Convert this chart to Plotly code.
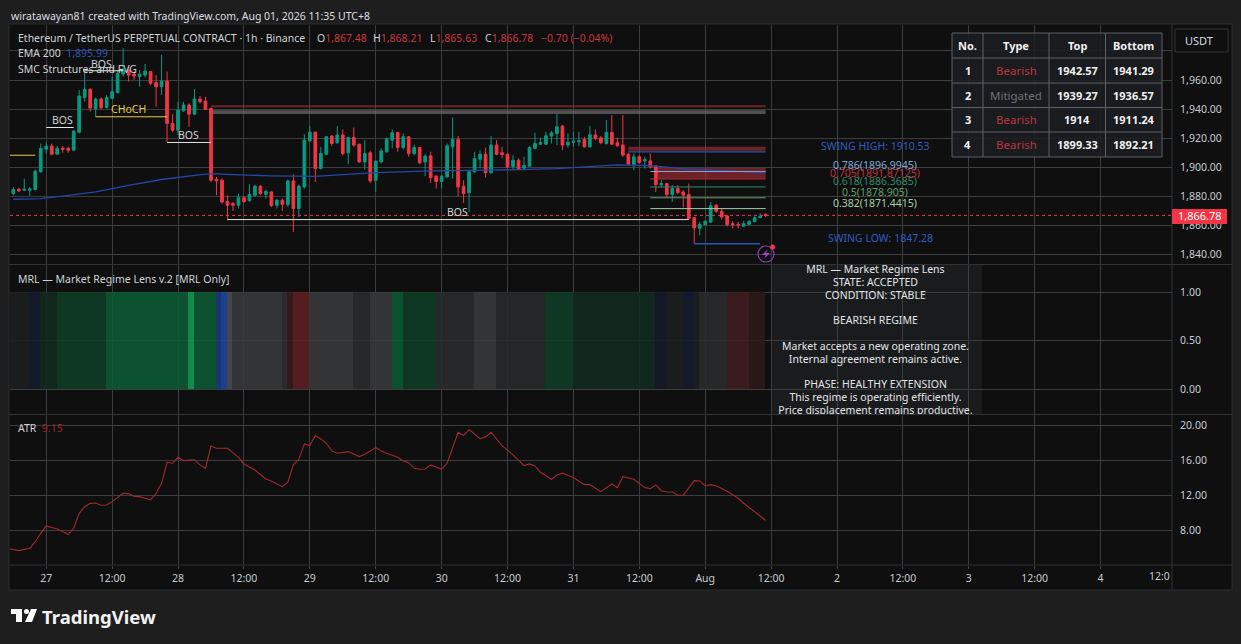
import pandas as pd
import plotly.graph_objects as go

W, H = 1241, 644
FONT = "Noto Sans"
GRID = "#3b3d3f"
TEXT = "#c8cbd2"
GREEN = "#089981"
RED = "#f23645"

# ----------------------------------------------------------------------------- data

opens = [
    1881.8, 1884.8, 1884.1, 1884.1, 1884.6, 1896.8, 1912.4, 1914.5, 1908.9, 1913.1,
    1912.9, 1911.7, 1924.1, 1948.0, 1953.6, 1940.4, 1946.9, 1941.1, 1947.4, 1951.3,
    1964.1, 1966.9, 1964.1, 1962.3, 1963.4, 1965.8, 1958.2, 1955.4, 1959.3, 1930.1,
    1925.5, 1938.8, 1942.8, 1936.5, 1946.9, 1945.5, 1940.4, 1891.7, 1891.0, 1876.3,
    1874.9, 1873.8, 1879.0, 1877.0, 1880.6, 1886.9, 1881.3, 1882.9, 1873.8, 1877.2,
    1874.2, 1890.5, 1871.5, 1886.4, 1918.1, 1924.1, 1899.1, 1908.9, 1921.4, 1916.8,
    1922.1, 1909.9, 1920.4, 1915.8, 1903.6, 1909.9, 1891.0, 1903.6, 1910.6, 1918.6,
    1923.9, 1913.5, 1920.9, 1909.4, 1913.5, 1903.6, 1907.8, 1893.8, 1890.1, 1893.3,
    1914.0, 1919.1, 1886.9, 1882.3, 1896.8, 1905.5, 1908.9, 1896.1, 1915.2, 1909.9,
    1908.9, 1900.2, 1904.8, 1899.3, 1900.7, 1912.9, 1915.8, 1915.8, 1921.4, 1923.2,
    1928.3, 1915.2, 1917.2, 1917.5, 1919.1, 1914.0, 1922.1, 1920.2, 1916.3, 1923.9,
    1916.8, 1915.2, 1908.9, 1902.0, 1907.1, 1904.3, 1904.3, 1900.7, 1887.8, 1888.7,
    1881.1, 1885.3, 1882.9, 1881.1, 1865.2, 1857.9, 1860.4, 1862.2, 1873.8, 1869.6,
    1866.4, 1861.1, 1860.6, 1859.3, 1860.6, 1862.5, 1865.2, 1867.48,
]
highs = [
    1886.4, 1885.7, 1892.2, 1886.4, 1898.4, 1916.3, 1916.8, 1916.3, 1914.7, 1914.7,
    1914.0, 1925.5, 1953.1, 1966.9, 1954.2, 1948.0, 1948.0, 1949.7, 1962.3, 1966.9,
    1981.9, 1969.2, 1965.8, 1966.9, 1971.0, 1966.4, 1963.4, 1977.2, 1965.8, 1936.5,
    1945.0, 1945.0, 1943.9, 1953.8, 1949.0, 1948.5, 1941.1, 1893.3, 1892.2, 1880.6,
    1876.0, 1881.8, 1880.0, 1888.2, 1887.6, 1887.6, 1884.6, 1883.4, 1878.3, 1878.3,
    1891.5, 1895.1, 1888.0, 1922.7, 1928.3, 1924.4, 1914.0, 1921.4, 1922.1, 1928.3,
    1926.0, 1920.9, 1927.3, 1916.3, 1918.6, 1911.2, 1904.8, 1912.9, 1920.4, 1926.0,
    1924.4, 1923.2, 1921.4, 1915.6, 1914.0, 1908.9, 1910.6, 1894.5, 1894.5, 1916.3,
    1934.2, 1921.4, 1891.0, 1897.2, 1910.6, 1911.7, 1913.5, 1921.4, 1918.6, 1914.0,
    1909.4, 1908.2, 1905.9, 1907.1, 1914.5, 1923.7, 1920.4, 1924.4, 1925.0, 1936.5,
    1928.9, 1923.2, 1924.4, 1924.4, 1920.9, 1928.3, 1926.0, 1921.4, 1932.4, 1935.9,
    1920.4, 1935.9, 1909.9, 1909.4, 1908.2, 1907.1, 1909.4, 1901.4, 1891.0, 1889.2,
    1887.6, 1887.6, 1884.1, 1888.7, 1865.7, 1862.3, 1863.4, 1876.0, 1874.4, 1871.4,
    1866.9, 1862.9, 1862.3, 1862.9, 1863.4, 1866.2, 1868.5, 1868.21,
]
lows = [
    1880.6, 1882.9, 1883.6, 1880.2, 1884.1, 1896.3, 1909.4, 1908.7, 1908.7, 1909.9,
    1909.9, 1911.2, 1923.2, 1945.1, 1938.2, 1934.7, 1939.8, 1940.4, 1946.7, 1950.8,
    1962.3, 1958.9, 1960.0, 1955.4, 1961.8, 1956.6, 1941.6, 1949.7, 1917.4, 1924.3,
    1922.1, 1938.2, 1927.8, 1935.9, 1943.9, 1939.3, 1889.9, 1880.6, 1874.9, 1863.4,
    1869.8, 1871.5, 1875.4, 1876.0, 1879.5, 1880.6, 1878.4, 1872.6, 1871.5, 1869.8,
    1872.6, 1855.4, 1865.7, 1885.2, 1917.4, 1889.8, 1898.4, 1908.2, 1914.5, 1916.3,
    1908.2, 1902.0, 1914.0, 1903.0, 1898.4, 1889.2, 1883.0, 1902.5, 1909.9, 1912.9,
    1910.6, 1912.2, 1907.1, 1908.2, 1902.0, 1893.8, 1889.2, 1885.3, 1885.3, 1892.8,
    1892.1, 1880.0, 1875.4, 1869.1, 1896.1, 1899.1, 1892.8, 1895.6, 1908.2, 1906.0,
    1899.1, 1897.9, 1897.9, 1898.8, 1900.2, 1912.2, 1915.2, 1915.2, 1916.3, 1915.2,
    1911.7, 1913.5, 1914.0, 1914.5, 1913.5, 1913.5, 1918.6, 1915.8, 1915.6, 1915.2,
    1914.0, 1907.1, 1901.3, 1897.9, 1902.5, 1899.1, 1899.1, 1882.9, 1885.9, 1879.5,
    1876.0, 1881.3, 1872.1, 1863.9, 1847.3, 1853.0, 1859.9, 1861.6, 1868.5, 1863.9,
    1859.3, 1857.7, 1857.7, 1858.8, 1859.9, 1862.0, 1864.8, 1865.63,
]
closes = [
    1884.6, 1883.6, 1884.8, 1885.0, 1897.2, 1912.9, 1914.5, 1908.9, 1912.9, 1912.2,
    1911.7, 1924.8, 1949.0, 1953.6, 1940.7, 1946.9, 1940.9, 1948.0, 1951.9, 1964.6,
    1966.9, 1963.4, 1962.8, 1964.1, 1966.2, 1957.7, 1955.4, 1959.3, 1930.1, 1925.5,
    1939.3, 1942.8, 1936.5, 1946.9, 1945.1, 1939.8, 1891.0, 1890.5, 1876.0, 1873.8,
    1873.8, 1879.0, 1876.3, 1881.3, 1886.9, 1881.8, 1883.2, 1873.5, 1877.2, 1874.4,
    1890.5, 1871.5, 1886.9, 1918.6, 1924.1, 1899.1, 1909.4, 1920.9, 1916.3, 1922.1,
    1909.4, 1920.4, 1915.2, 1903.6, 1909.4, 1890.5, 1904.1, 1911.2, 1919.5, 1923.7,
    1913.5, 1920.9, 1909.4, 1913.5, 1903.0, 1907.6, 1892.8, 1890.1, 1893.8, 1914.7,
    1919.1, 1886.4, 1881.8, 1896.8, 1905.9, 1908.9, 1896.1, 1915.2, 1908.9, 1908.7,
    1900.2, 1904.8, 1898.4, 1901.1, 1913.5, 1916.3, 1916.8, 1921.6, 1923.7, 1927.8,
    1915.2, 1917.2, 1917.9, 1918.1, 1914.0, 1922.3, 1919.8, 1916.8, 1923.9, 1915.8,
    1914.7, 1908.3, 1902.0, 1907.1, 1903.2, 1905.3, 1900.2, 1888.0, 1888.7, 1881.1,
    1885.3, 1882.5, 1880.7, 1864.6, 1858.1, 1860.6, 1862.7, 1873.5, 1869.6, 1865.7,
    1860.4, 1860.4, 1860.2, 1861.1, 1862.7, 1865.2, 1866.2, 1866.78,
]
last_price = 1866.78

ema_idx = [0, 5, 9, 15, 21, 27, 33, 36, 40, 47, 55, 65, 76, 87, 99, 110, 116, 123, 130, 137]
ema_val = [1877.9, 1878.3, 1880.0, 1882.9, 1887.5, 1891.5, 1894.4, 1895.6, 1894.9, 1894.0,
           1893.6, 1896.1, 1897.4, 1897.9, 1899.0, 1901.6, 1901.1, 1898.6, 1897.4, 1895.99]

# structure breaks: candle from, candle to, price
bos_from = [6, 13, 28, 39]
bos_to = [11, 20, 36, 123]
bos_level = [1927.3, 1966.4, 1917.0, 1863.9]
choch_from = [-1, 15]
choch_to = [4, 28]
choch_level = [1908.2, 1934.7]

# FVG zones from the table
zone_no = ["1", "2", "3", "4"]
zone_type = ["Bearish", "Mitigated", "Bearish", "Bearish"]
zone_top = [1942.57, 1939.27, 1914, 1899.33]
zone_bottom = [1941.29, 1936.57, 1911.24, 1892.21]
zone_start = [36, 36, 112, 117]
zone_end = 137
table_head = ["No.", "Type", "Top", "Bottom"]

fib_names = ["0.786", "0.705", "0.618", "0.5", "0.382"]
fib_values = [1896.9945, 1891.87125, 1886.3685, 1878.905, 1871.4415]
fib_colors = ["#7fa9d8", "#c2333a", "#2f8a6c", "#5f9e68", "#a3cfa3"]
swing_high = 1910.53
swing_low = 1847.28

# MRL regime blocks: length in candles, colour
mrl_runs = [4, 2, 3, 9, 15, 1, 4, 1, 1, 1, 9, 1, 1, 3, 8, 3, 4, 2, 6, 7, 4, 9, 5, 15, 2, 3, 2, 1, 5, 4, 3]
mrl_colors = [
    "#1d1e20", "#141c30", "#122a20", "#0e3d26", "#0c5a34", "#0e9a50", "#0c5a34", "#1a3a80",
    "#1e46a0", "#4a4b4e", "#37383b", "#2e2f30", "#3a1a1c", "#5c2024", "#37383b", "#2a2b2c",
    "#37383b", "#0c5a34", "#0e3d26", "#2a2b2c", "#37383b", "#272a2b", "#0e3d26", "#122a20",
    "#15192a", "#1c1e20", "#151b30", "#1d1e20", "#2a2b2d", "#3f1e21", "#2e1a1b",
]
mrl_panel_lines = [
    "MRL — Market Regime Lens", "STATE: ACCEPTED", "CONDITION: STABLE", "BEARISH REGIME",
    "Market accepts a new operating zone.", "Internal agreement remains active.",
    "PHASE: HEALTHY EXTENSION", "This regime is operating efficiently.",
    "Price displacement remains productive.",
]
mrl_panel_pos = [1.23, 1.096, 0.962, 0.704, 0.436, 0.302, 0.044, -0.089, -0.224]

atr_idx = [
    -1, 1, 3, 4, 5, 6, 8, 10, 11, 12, 13, 14, 15, 16, 17, 18, 20, 21, 22, 23, 25, 26, 27, 28, 29,
    30, 31, 33, 34, 35, 36, 37, 39, 41, 42, 44, 46, 47, 49, 50, 51, 52, 53, 54, 55, 56, 57, 58, 59,
    61, 63, 64, 66, 67, 68, 70, 71, 72, 73, 74, 75, 76, 78, 79, 81, 82, 83, 85, 86, 87, 89, 91, 93,
    94, 95, 96, 98, 99, 100, 102, 104, 105, 107, 109, 110, 111, 113, 115, 116, 117, 118, 119, 120,
    121, 122, 124, 125, 126, 127, 128, 130, 132, 133, 134, 137,
]
atr_val = [
    5.94, 5.68, 5.94, 6.70, 7.66, 8.50, 8.15, 7.54, 8.23, 9.94, 10.70, 11.08, 11.12, 10.86, 10.89,
    11.28, 12.23, 12.19, 11.88, 11.85, 11.47, 12.23, 13.37, 15.77, 15.66, 16.34, 15.96, 16.04,
    15.47, 15.08, 17.64, 17.37, 17.37, 16.34, 15.58, 14.89, 13.87, 13.64, 12.99, 13.49, 15.47,
    16.11, 17.87, 17.68, 18.82, 18.44, 17.94, 17.07, 16.80, 16.99, 16.42, 16.68, 17.45, 17.07,
    16.80, 16.34, 15.92, 15.73, 15.08, 14.97, 15.00, 15.47, 14.97, 15.66, 19.20, 18.82, 19.50,
    18.46, 18.67, 19.20, 17.68, 16.61, 15.39, 15.58, 15.35, 14.63, 13.83, 14.32, 14.55, 14.02,
    13.22, 13.22, 12.42, 13.29, 12.88, 14.13, 13.83, 12.88, 12.76, 13.18, 12.53, 12.38, 12.38,
    12.00, 12.00, 13.68, 13.64, 13.07, 13.22, 13.10, 12.46, 11.66, 11.09, 10.63, 9.15,
]

time_ticks = pd.date_range("2026-07-27 00:00", "2026-08-04 00:00", freq="12h")
time_labels = ["27", "12:00", "28", "12:00", "29", "12:00", "30", "12:00", "31", "12:00",
               "Aug", "12:00", "2", "12:00", "3", "12:00", "4"]
price_ticks = [1840, 1860, 1880, 1900, 1920, 1940, 1960, 1980]
price_labels = ["1,840.00", "1,860.00", "1,880.00", "1,900.00", "1,920.00", "1,940.00", "1,960.00", ""]
mrl_ticks = [0, 0.5, 1]
mrl_labels = ["0.00", "0.50", "1.00"]
atr_ticks = [8, 12, 16, 20]
atr_labels = ["8.00", "12.00", "16.00", "20.00"]

first_bar = pd.Timestamp("2026-07-26 18:00")
HOUR = pd.Timedelta(hours=1)
bar_times = [first_bar + HOUR * i for i in range(len(closes))]


def at(i):
    return first_bar + HOUR * i


# ----------------------------------------------------------------------------- helpers


def px(x):
    return x / W


def py(y):
    return 1 - y / H


def dom(top, bottom):
    return [py(bottom), py(top)]


def label(x, y, text, color=TEXT, size=10.5, anchor="left"):
    fig.add_annotation(
        x=px(x), y=py(y), xref="paper", yref="paper", text=text, showarrow=False,
        xanchor=anchor, yanchor="middle", font=dict(family=FONT, size=size, color=color),
    )


def level_line(i0, i1, level, color, width=1, yaxis="y"):
    fig.add_trace(go.Scatter(
        x=[at(i0), at(i1)], y=[level, level], mode="lines", yaxis=yaxis,
        line=dict(color=color, width=width), hoverinfo="skip",
    ))


def page_rect(x0, y0, x1, y1, **kw):
    fig.add_shape(type="rect", xref="paper", yref="paper",
                  x0=px(x0), x1=px(x1), y0=py(y0), y1=py(y1), **kw)


def page_line(x0, y0, x1, y1, color, layer="below"):
    fig.add_shape(type="line", xref="paper", yref="paper", x0=px(x0), x1=px(x1), y0=py(y0), y1=py(y1),
                  line=dict(color=color, width=1), layer=layer)


def page_poly(points, color):
    path = " ".join(("M" if k == 0 else "L") + f"{px(a):.5f},{py(b):.5f}" for k, (a, b) in enumerate(points))
    fig.add_shape(type="path", xref="paper", yref="paper", fillcolor=color, line_width=0, path=path + " Z")


# ----------------------------------------------------------------------------- figure

fig = go.Figure()

# Chart background first, the info panel goes on top of it
page_rect(9, 24, 1232, 590, fillcolor="#0f0f0f", line=dict(color="#2b2d2e", width=1), layer="below")
page_rect(771, 265, 982, 415, fillcolor="#1a1b1d", line_width=0, layer="below")
for y in [264.5, 414.5, 565]:
    page_line(9, y, 1232, y, "#303234")
page_line(1172, 24, 1172, 590, "#303234")

# Zones under the candles
zone_fill = {"Bearish": "rgba(170,45,55,0.62)", "Mitigated": "rgba(120,122,125,0.62)"}
for top, bottom, kind, start in zip(zone_top, zone_bottom, zone_type, zone_start):
    fig.add_shape(type="rect", xref="x", yref="y", x0=at(start), x1=at(zone_end), y0=bottom, y1=top,
                  fillcolor=zone_fill[kind], line_width=0, layer="between")

# Candles
fig.add_trace(go.Candlestick(
    x=bar_times, open=opens, high=highs, low=lows, close=closes,
    increasing=dict(line=dict(color=GREEN, width=1), fillcolor=GREEN),
    decreasing=dict(line=dict(color=RED, width=1), fillcolor=RED),
    whiskerwidth=0, hoverinfo="skip",
))

# EMA 200
fig.add_trace(go.Scatter(
    x=[at(i) for i in ema_idx], y=ema_val, mode="lines",
    line=dict(color="#2447a8", width=1.3), hoverinfo="skip",
))

# Market structure
for i0, i1, lvl in zip(bos_from, bos_to, bos_level):
    level_line(i0, i1, lvl, "#e4e4e4")
for i0, i1, lvl in zip(choch_from, choch_to, choch_level):
    level_line(i0, i1, lvl, "#e8c94a")

# Fib and swing levels
for val, col in zip(fib_values, fib_colors):
    level_line(116, 137, val, col)
level_line(112, 137, swing_high, "#2a55b8", 1.2)
level_line(124, 136, swing_low, "#2a55b8", 1.4)

# Last price
fig.add_shape(type="line", xref="x domain", yref="y", x0=0, x1=1, y0=last_price, y1=last_price,
              line=dict(color=RED, width=1, dash="dot"))

# MRL regime blocks, first one runs off the left edge
starts = []
pos = -1
for n in mrl_runs:
    starts.append(pos)
    pos += n
fig.add_trace(go.Bar(
    x=[at(s + n / 2 - 0.1) for s, n in zip(starts, mrl_runs)],
    y=[1] * len(mrl_runs),
    width=[n * 3600000 for n in mrl_runs],
    yaxis="y2", marker=dict(color=mrl_colors, line_width=0, opacity=0.9), hoverinfo="skip",
))

# MRL info text, clipped by the pane like in the app
fig.add_trace(go.Scatter(
    x=[at(157)] * len(mrl_panel_lines), y=mrl_panel_pos, text=mrl_panel_lines, mode="text",
    yaxis="y2", textposition="middle center", cliponaxis=True,
    textfont=dict(family=FONT, size=10.5, color="#e4e5e8"), hoverinfo="skip",
))

# ATR
fig.add_trace(go.Scatter(
    x=[at(i) for i in atr_idx], y=atr_val, mode="lines", yaxis="y3",
    line=dict(color="#a02a32", width=1.1), hoverinfo="skip",
))

# ----------------------------------------------------------------------------- FVG table

col_edges = [952, 983, 1049, 1105.5, 1162]
row_edges = [33, 58, 83, 107.5, 132, 157]
page_rect(col_edges[0], row_edges[0], col_edges[-1], row_edges[-1], fillcolor="rgba(28,30,33,0.88)",
          line=dict(color="#5f6165", width=1))
for x in col_edges[1:-1]:
    page_line(x, row_edges[0], x, row_edges[-1], "#5f6165", "above")
for y in row_edges[1:-1]:
    page_line(col_edges[0], y, col_edges[-1], y, "#5f6165", "above")

table_rows = [table_head] + [
    [n, t, f"{a:g}", f"{b:g}"] for n, t, a, b in zip(zone_no, zone_type, zone_top, zone_bottom)
]
for r, row in enumerate(table_rows):
    for c, cell in enumerate(row):
        xc = (col_edges[c] + col_edges[c + 1]) / 2
        yc = (row_edges[r] + row_edges[r + 1]) / 2
        if c == 1 and r > 0:
            label(xc, yc, cell, "#bb3640" if cell == "Bearish" else "#6f7073", 11.5, "center")
        else:
            label(xc, yc, f"<b>{cell}</b>", "#f0f0f0", 11, "center")

# ----------------------------------------------------------------------------- chrome

# USDT button and last price tag
page_rect(1175, 29, 1228, 52, line=dict(color="#333537", width=1), fillcolor="#0f0f0f")
label(1183, 41, "USDT", "#d8dae0", 11)
page_rect(1172, 209, 1227, 224, fillcolor=RED, line_width=0)

# TradingView logo
page_poly([(11, 609), (22, 609), (22, 622), (16, 622), (16, 614), (11, 614)], "#ffffff")
page_poly([(31, 609), (37, 609), (32, 622), (25, 622)], "#ffffff")
fig.add_shape(type="circle", xref="paper", yref="paper", fillcolor="#ffffff", line_width=0,
              x0=px(24), x1=px(29), y0=py(614), y1=py(609))

# Alert icon
fig.add_shape(type="circle", xref="paper", yref="paper", line=dict(color="#8e3bb0", width=1.2),
              x0=px(758), x1=px(774), y0=py(262), y1=py(246))
page_poly([(768, 249), (762, 255), (766, 255), (764, 259), (770, 253), (766, 253)], "#9c46c2")
fig.add_shape(type="circle", xref="paper", yref="paper", fillcolor=RED, line_width=0,
              x0=px(770), x1=px(775), y0=py(249.5), y1=py(244.5))

# Texts
muted = "#d0d2d6"
val_red = "#c9373f"
label(9, 16, "wiratawayan81 created with TradingView.com, Aug 01, 2026 11:35 UTC+8", "#dcdde0", 10.5)
label(16, 38, "Ethereum / TetherUS PERPETUAL CONTRACT · 1h · Binance", muted)
for x, head, val in [(315, "O", "1,867.48"), (371, "H", "1,868.21"), (428, "L", "1,865.63"), (483, "C", "1,866.78")]:
    label(x, 38, f'{head}<span style="color:{val_red}">{val}</span>', muted)
label(539, 38, "−0.70 (−0.04%)", val_red)
label(16, 53, 'EMA 200  <span style="color:#2a55b8">1,895.99</span>', muted)
label(16, 69, "SMC Structures and FVG", muted)
label(16, 279, "MRL — Market Regime Lens v.2 [MRL Only]", muted)
label(16, 428, 'ATR  <span style="color:#96272f">9.15</span>', muted)

# Break labels
for x, y, txt, col in [(62, 120, "BOS", "#d0d2d6"), (101, 64, "BOS", "#d0d2d6"), (128, 109, "CHoCH", "#e8c94a"),
                       (188, 135, "BOS", "#d0d2d6"), (458, 212, "BOS", "#d0d2d6")]:
    label(x, y, txt, col, 10.5, "center")

# Fib and swing labels
label(875, 146, f"SWING HIGH: {swing_high}", "#2f5cc0", 10.5, "center")
for y, name, val, col in zip([165, 173, 181, 192, 203], fib_names, fib_values, fib_colors):
    label(875, y, f"{name}({val})", col, 10.5, "center")
label(881, 238, f"SWING LOW: {swing_low}", "#2f5cc0", 10.5, "center")

label(1199.5, 216, "1,866.78", "#ffffff", 11, "center")
label(1172, 576, "12:0", "#c8cbd2", 10.5, "right")
label(40, 616, "<b>TradingView</b>", "#f2f2f2", 18.5)

axis_font = dict(family=FONT, size=10.5, color=TEXT)
ycommon = dict(side="right", anchor="x", showgrid=True, gridcolor=GRID, gridwidth=1, zeroline=False,
               showline=False, tickmode="array", ticks="outside", ticklen=5, tickcolor="rgba(0,0,0,0)",
               tickfont=axis_font, ticklabelposition="outside")

fig.update_layout(
    width=W, height=H, margin=dict(l=0, r=0, t=0, b=0), showlegend=False,
    paper_bgcolor="#1e1e1e", plot_bgcolor="rgba(0,0,0,0)", barmode="overlay", bargap=0,
    font=dict(family=FONT),
    xaxis=dict(
        domain=[px(10), px(1172)], anchor="y3", type="date",
        range=[pd.Timestamp("2026-07-26 17:24"), pd.Timestamp("2026-08-04 13:00")],
        rangeslider=dict(visible=False), showgrid=True, gridcolor=GRID, gridwidth=1, zeroline=False,
        tickmode="array", tickvals=list(time_ticks), ticktext=time_labels, ticks="outside", ticklen=3,
        tickcolor="#44474a", tickangle=0, tickfont=dict(family=FONT, size=10.5, color=TEXT),
    ),
    yaxis=dict(domain=dom(25, 264), range=[1833.3, 1997.9], tickvals=price_ticks, ticktext=price_labels, **ycommon),
    yaxis2=dict(domain=dom(265, 414), range=[-0.2546, 1.281], tickvals=mrl_ticks, ticktext=mrl_labels, **ycommon),
    yaxis3=dict(domain=dom(415, 565), range=[4.04, 21.17], tickvals=atr_ticks, ticktext=atr_labels, **ycommon),
)

fig.write_html("out.html", config=dict(displayModeBar=False),
               post_script="document.body.style.margin='0';document.body.style.overflow='hidden';")
